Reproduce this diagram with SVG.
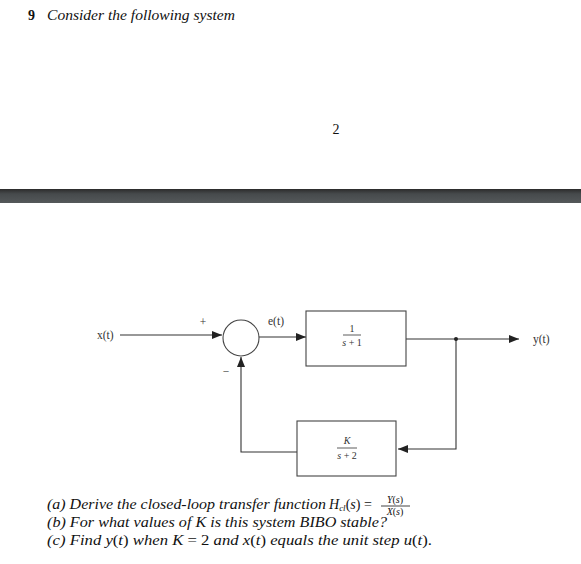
<svg xmlns="http://www.w3.org/2000/svg" width="581" height="564" viewBox="0 0 581 564">
<defs>
<linearGradient id="bar" x1="0" y1="0" x2="0" y2="1">
<stop offset="0" stop-color="#2b2b2b"/>
<stop offset="0.35" stop-color="#464a4c"/>
<stop offset="1" stop-color="#54585a"/>
</linearGradient>
<marker id="arr" viewBox="0 0 10 8" refX="10" refY="4" markerWidth="10" markerHeight="8" markerUnits="userSpaceOnUse" orient="auto">
<path d="M0,0 L10,4 L0,8 Z" fill="#222"/>
</marker>
<style>
.ln{stroke:#333;stroke-width:1.1;fill:none}
.blk{stroke:#444;stroke-width:1.1;fill:#fff}
.lbl{font-family:"Liberation Serif",serif;font-size:11.5px;fill:#333}
.fr{font-family:"Liberation Serif",serif;font-size:10px;fill:#333}
.q{font-family:"Liberation Serif",serif;font-style:italic;fill:#111}
.up{font-style:normal}
</style>
</defs>
<rect width="581" height="564" fill="#fff"/>
<g id="header">
<text x="28" y="20" style="font-family:'Liberation Serif',serif;font-weight:bold;font-size:14px" fill="#111">9</text>
<text x="47" y="20" class="q" style="font-size:14px" textLength="188" lengthAdjust="spacingAndGlyphs">Consider the following system</text>
<text x="336" y="134" style="font-family:'Liberation Serif',serif;font-size:14px" fill="#111" text-anchor="middle">2</text>
</g>
<rect id="divider" x="0" y="189" width="581" height="14" fill="url(#bar)"/>
<g id="connectors">
<line class="ln" x1="120" y1="335" x2="222" y2="335" marker-end="url(#arr)"/>
<line class="ln" x1="259" y1="337" x2="306" y2="337" marker-end="url(#arr)"/>
<line class="ln" x1="406" y1="339" x2="519" y2="339" marker-end="url(#arr)"/>
<polyline class="ln" points="456,339 456,449 398,449" marker-end="url(#arr)"/>
<polyline class="ln" points="297,452 241,452 241,357" marker-end="url(#arr)"/>
<circle cx="456" cy="339" r="2" fill="#222"/>
</g>
<g id="sum">
<circle class="blk" cx="241" cy="338" r="18"/>
<text class="lbl" x="203" y="326" text-anchor="middle">+</text>
<text class="lbl" x="226" y="375" text-anchor="middle">−</text>
</g>
<g id="labels">
<text class="lbl" x="97" y="339">x(t)</text>
<text class="lbl" x="268" y="325">e(t)</text>
<text class="lbl" x="533" y="343">y(t)</text>
</g>
<g id="plant">
<rect class="blk" x="306" y="311" width="100" height="55"/>
<text class="fr" x="352" y="332" text-anchor="middle">1</text>
<line x1="343" y1="335" x2="361" y2="335" stroke="#333" stroke-width="0.8"/>
<text class="fr" x="352" y="346" text-anchor="middle"><tspan style="font-style:italic">s</tspan> + 1</text>
</g>
<g id="feedback">
<rect class="blk" x="297" y="421" width="99" height="55"/>
<text class="fr" x="347" y="444" text-anchor="middle" style="font-style:italic">K</text>
<line x1="337" y1="448" x2="357" y2="448" stroke="#333" stroke-width="0.8"/>
<text class="fr" x="347" y="459" text-anchor="middle"><tspan style="font-style:italic">s</tspan> + 2</text>
</g>
<g id="questions">
<text class="q" x="47" y="509" style="font-size:14px"><tspan textLength="279" lengthAdjust="spacingAndGlyphs">(a) Derive the closed-loop transfer function</tspan><tspan x="329">H</tspan><tspan style="font-size:9px" dy="2">cl</tspan><tspan dy="-2" class="up">(</tspan><tspan>s</tspan><tspan class="up">) =</tspan></text>
<text class="q" x="395" y="503" style="font-size:10px" text-anchor="middle">Y<tspan class="up">(</tspan>s<tspan class="up">)</tspan></text>
<line x1="381" y1="506" x2="410" y2="506" stroke="#111" stroke-width="0.8"/>
<text class="q" x="395" y="515" style="font-size:10px" text-anchor="middle">X<tspan class="up">(</tspan>s<tspan class="up">)</tspan></text>
<text class="q" x="47" y="527" style="font-size:14px" textLength="340" lengthAdjust="spacingAndGlyphs">(b) For what values of K is this system BIBO stable?</text>
<text class="q" x="47" y="545" style="font-size:14px" textLength="385" lengthAdjust="spacingAndGlyphs">(c) Find y<tspan class="up">(</tspan>t<tspan class="up">)</tspan> when K <tspan class="up">= 2</tspan> and x<tspan class="up">(</tspan>t<tspan class="up">)</tspan> equals the unit step u<tspan class="up">(</tspan>t<tspan class="up">).</tspan></text>
</g>
</svg>
